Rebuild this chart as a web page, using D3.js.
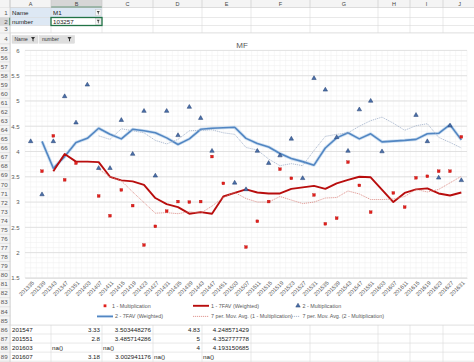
<!DOCTYPE html>
<html><head><meta charset="utf-8">
<script src="https://cdn.jsdelivr.net/npm/d3@7"></script>
<style>body{margin:0;background:#fff;overflow:hidden}svg{display:block;font-family:"Liberation Sans",Arial,sans-serif}</style>
</head><body><svg id="c" width="474" height="362"></svg>
<script>
// ---- data ----
const categories = ["201335","201339","201343","201347","201351","201403","201407","201411","201415","201419","201423","201427","201431","201435","201439","201443","201447","201451","201503","201507","201511","201515","201519","201523","201527","201531","201535","201539","201543","201547","201551","201603","201607","201611","201615","201619","201623","201627","201631"];
const mult1 = [null,3.61,4.31,3.44,3.77,null,3.12,2.73,3.24,2.93,2.15,2.52,2.82,3.01,3.00,3.01,3.90,3.37,null,2.11,2.62,3.01,3.65,3.47,null,3.14,2.57,2.68,3.79,3.33,2.80,null,3.18,2.90,3.48,3.51,3.61,3.61,4.29];
const wfav1 = [null,null,3.61,3.95,3.80,3.80,3.79,3.50,3.43,3.41,3.34,3.08,2.96,2.90,2.77,2.80,2.77,3.11,3.18,3.25,3.19,3.17,3.17,3.26,3.29,3.32,3.26,3.37,3.44,3.50,3.49,null,3.00,3.18,3.25,3.27,3.17,3.13,3.19];
const mult2 = [4.20,3.15,4.20,5.09,4.57,5.32,3.67,3.67,4.62,3.95,4.80,3.52,4.80,4.32,4.88,4.66,4.01,null,3.38,3.25,4.01,3.77,3.92,4.25,3.47,5.45,5.22,4.28,4.01,4.83,5.00,4.00,null,null,4.72,4.20,3.48,4.51,3.43];
const wfav2 = [null,4.20,3.67,3.90,4.18,4.26,4.46,4.34,4.25,4.44,4.41,4.37,4.27,4.14,4.25,4.44,4.46,4.47,4.48,4.26,4.16,4.09,3.96,3.86,3.80,3.73,4.07,4.27,4.37,4.25,4.35,4.19,null,4.22,4.24,4.35,4.36,4.53,4.23];
const ma1 = [null,null,null,null,null,null,3.65,3.50,3.42,3.20,2.99,2.78,2.79,2.77,2.81,2.78,2.92,3.09,3.19,3.07,3.00,3.00,3.11,3.04,2.97,3.00,3.08,3.09,3.22,3.16,3.05,3.05,3.06,3.11,3.25,3.20,3.25,3.38,3.51];
const ma2 = [null,null,null,null,null,null,4.31,4.24,4.45,4.41,4.37,4.22,4.15,4.24,4.41,4.42,4.43,4.37,4.34,4.08,4.03,3.85,3.72,3.76,3.72,4.02,4.30,4.34,4.37,4.50,4.61,4.68,4.56,4.42,4.51,4.55,4.28,4.18,4.07];
const yTicks = [1.5,2,2.5,3,3.5,4,4.5,5,5.5,6];
const seriesNames = ["1 - Multiplication","1 - 7FAV (Weighted)","2 - Multiplication","2 - 7FAV (Weighted)","7 per. Mov. Avg. (1 - Multiplication)","7 per. Mov. Avg. (2 - Multiplication)"];
const chartTitle = "MF";
const filterCells = [["Name","M1"],["number","103257"]];
const pivotButtons = ["Name","number"];
const tableRows = [
  ["201547","3.33","3.503448276","4.83","4.248571429"],
  ["201551","2.8","3.485714286","5","4.352777778"],
  ["201603","na()","na()","4","4.193150685"],
  ["201607","3.18","3.002941176","na()","na()"]
];
const colNames = ["A","B","C","D","E","F","G","H","I","J"];

// ---- layout ----
const svg = d3.select("#c");
const colEdges = [10,51,102,153,202,251,310,378,410,443,476];
const rows = [{n:1,y0:7.5,y1:17.5},{n:2,y0:17.5,y1:25.5},{n:3,y0:25.5,y1:33},{n:4,y0:33,y1:43.8}];
for (let r=55;r<=89;r++){const c=48.3+(r-55)*9.07; rows.push({n:r,y0:c-4.535,y1:c+4.535});}
const cellFont = 6.2;

svg.append("rect").attr("width",474).attr("height",362).attr("fill","#fff");

// light fill in filter cells
svg.append("rect").attr("x",10).attr("y",7.5).attr("width",41).attr("height",18).attr("fill","#dde8f4");
svg.append("rect").attr("x",51).attr("y",7.5).attr("width",51).attr("height",10).attr("fill","#dde8f4");

// cell gridlines
const grid = svg.append("g").attr("stroke","#dadada").attr("stroke-width",0.6);
rows.forEach(r=>{grid.append("line").attr("x1",10).attr("x2",474).attr("y1",r.y1).attr("y2",r.y1);});
colEdges.forEach(x=>{grid.append("line").attr("x1",x).attr("x2",x).attr("y1",7.5).attr("y2",362);});

// column header
svg.append("rect").attr("x",0).attr("y",0).attr("width",474).attr("height",7.5).attr("fill","#f4f4f4");
svg.append("rect").attr("x",51).attr("y",0).attr("width",51).attr("height",7.5).attr("fill","#d6d6d6");
svg.append("line").attr("x1",51).attr("x2",102).attr("y1",7.2).attr("y2",7.2).attr("stroke","#217346").attr("stroke-width",1);
colNames.forEach((c,i)=>{
  svg.append("line").attr("x1",colEdges[i]).attr("x2",colEdges[i]).attr("y1",0).attr("y2",7.5).attr("stroke","#c8c8c8").attr("stroke-width",0.6);
  svg.append("text").attr("x",(colEdges[i]+colEdges[i+1])/2).attr("y",5.6).attr("text-anchor","middle")
    .attr("font-size",5.5).attr("fill","#444").text(c);
});
svg.append("line").attr("x1",0).attr("x2",474).attr("y1",7.5).attr("y2",7.5).attr("stroke","#c8c8c8").attr("stroke-width",0.6);

// row header
svg.append("rect").attr("x",0).attr("y",7.5).attr("width",10).attr("height",355).attr("fill","#f4f4f4");
svg.append("rect").attr("x",0).attr("y",17.5).attr("width",10).attr("height",8).attr("fill","#d6d6d6");
svg.append("line").attr("x1",9.7).attr("x2",9.7).attr("y1",17.5).attr("y2",25.5).attr("stroke","#217346").attr("stroke-width",1);
rows.forEach(r=>{
  svg.append("line").attr("x1",0).attr("x2",10).attr("y1",r.y1).attr("y2",r.y1).attr("stroke","#d0d0d0").attr("stroke-width",0.5);
  svg.append("text").attr("x",7.6).attr("y",(r.y0+r.y1)/2+2.2).attr("text-anchor","end")
    .attr("font-size",cellFont).attr("fill","#555").text(r.n);
});
svg.append("line").attr("x1",10).attr("x2",10).attr("y1",0).attr("y2",362).attr("stroke","#c8c8c8").attr("stroke-width",0.6);

// filter cells
filterCells.forEach((row,i)=>{
  const yc = i===0 ? 12.7 : 21.6;
  svg.append("text").attr("x",12).attr("y",yc+2.2).attr("font-size",cellFont).attr("fill","#222").text(row[0]);
  svg.append("text").attr("x",53).attr("y",yc+2.2).attr("font-size",cellFont).attr("fill","#222").text(row[1]);
  const g = svg.append("g").attr("transform",`translate(95.5,${yc-3.2})`);
  g.append("rect").attr("width",5.5).attr("height",6.2).attr("fill","#f7f7f7").attr("stroke","#bdbdbd").attr("stroke-width",0.4);
  g.append("path").attr("d","M1.2,1.4 L4.3,1.4 L3.1,3.2 L3.1,5 L2.4,4.6 L2.4,3.2 Z").attr("fill","#444");
});
svg.append("rect").attr("x",51).attr("y",17.5).attr("width",51).attr("height",8).attr("fill","none").attr("stroke","#217346").attr("stroke-width",1.3);

// table rows at the bottom
const tableRowY = [329.5,338.6,347.6,356.7];
tableRows.forEach((row,ri)=>{
  const yy = tableRowY[ri]+2.2;
  row.forEach((v,ci)=>{
    const isNum = ci>0 && !isNaN(+v);
    const t = svg.append("text").attr("y",yy).attr("font-size",cellFont).attr("fill","#222").text(v);
    if (ci===0) t.attr("x",12);
    else if (isNum) t.attr("x",colEdges[ci+1]-2).attr("text-anchor","end");
    else t.attr("x",colEdges[ci]+1);
  });
});

// ---- chart ----
svg.append("rect").attr("x",10.5).attr("y",33).attr("width",470).attr("height",292)
  .attr("fill","#fff").attr("stroke","#d9d9d9").attr("stroke-width",0.7);

// pivot buttons
[[12,26],[39.5,35]].forEach(([bx,bw],i)=>{
  const g = svg.append("g").attr("transform",`translate(${bx},35.6)`);
  g.append("rect").attr("width",bw).attr("height",7.6).attr("fill","#dedede").attr("stroke","#cfcfcf").attr("stroke-width",0.4);
  g.append("text").attr("x",2.5).attr("y",5.5).attr("font-size",5).attr("fill","#333").text(pivotButtons[i]);
  g.append("path").attr("transform",`translate(${bw-7},1.4)`).attr("d","M0,0 L4,0 L2.5,2.2 L2.5,4.6 L1.5,4.1 L1.5,2.2 Z").attr("fill","#333");
});

svg.append("text").attr("x",242).attr("y",48.2).attr("text-anchor","middle").attr("font-size",8).attr("fill","#595959").text(chartTitle);

const x = d3.scaleBand().domain(categories).range([25,467]);
const y = d3.scaleLinear().domain([1.5,6]).range([277.9,50.4]);
const cx = c => x(c)+x.bandwidth()/2;

// gridlines
const pg = svg.append("g");
d3.range(15,61).map(v=>v/10).forEach(v=>{
  pg.append("line").attr("x1",25).attr("x2",467).attr("y1",y(v)).attr("y2",y(v)).attr("stroke","#eeeeee").attr("stroke-width",0.5);
});
for (let i=0;i<=categories.length*2;i++){
  const xx = 25 + i*x.step()/2;
  pg.append("line").attr("x1",xx).attr("x2",xx).attr("y1",y(6)).attr("y2",y(1.5)).attr("stroke","#eeeeee").attr("stroke-width",0.5);
}
yTicks.forEach(v=>{
  pg.append("line").attr("x1",25).attr("x2",467).attr("y1",y(v)).attr("y2",y(v)).attr("stroke","#d9d9d9").attr("stroke-width",0.7);
});

// axes
const ya = svg.append("g").attr("transform","translate(25,0)")
  .call(d3.axisLeft(y).tickValues(yTicks).tickSize(0).tickPadding(5.5).tickFormat(d=>String(d)));
ya.select(".domain").remove();
ya.selectAll("text").attr("font-size",6).attr("fill","#595959").attr("font-family","'Liberation Sans',Arial,sans-serif");

const xa = svg.append("g").attr("transform",`translate(0,${y(1.5)})`)
  .call(d3.axisBottom(x).tickSize(0));
xa.select(".domain").attr("stroke","#d9d9d9").attr("stroke-width",0.7);
xa.selectAll("text").attr("font-size",5.6).attr("fill","#595959").attr("font-family","'Liberation Sans',Arial,sans-serif")
  .attr("x",0).attr("y",0).attr("dy","0.35em").attr("transform","translate(2.5,4) rotate(-45)").style("text-anchor","end");

// series helpers
const pts = arr => categories.map((c,i)=>({c,v:arr[i]})).filter(d=>d.v!==null);
const line = d3.line().x(d=>cx(d.c)).y(d=>y(d.v));

// 2 - 7FAV (Weighted) with soft glow
svg.append("path").attr("d",line(pts(wfav2))).attr("fill","none").attr("stroke","#c6daf0").attr("stroke-width",3.2).attr("stroke-linejoin","round").attr("opacity",0.85);
svg.append("path").attr("d",line(pts(wfav2))).attr("fill","none").attr("stroke","#5286c2").attr("stroke-width",1.6).attr("stroke-linejoin","round");
// 1 - 7FAV (Weighted)
svg.append("path").attr("d",line(pts(wfav1))).attr("fill","none").attr("stroke","#b80d0d").attr("stroke-width",1.9).attr("stroke-linejoin","round");
// moving averages
svg.append("path").attr("d",line(pts(ma1))).attr("fill","none").attr("stroke","#d9807a").attr("stroke-width",0.75).attr("stroke-dasharray","1.2,0.8");
svg.append("path").attr("d",line(pts(ma2))).attr("fill","none").attr("stroke","#98aac4").attr("stroke-width",0.75).attr("stroke-dasharray","1.2,0.8");

// markers
const tri = d3.symbol().type(d3.symbolTriangle).size(8.5);
svg.append("g").selectAll("path").data(pts(mult2)).join("path")
  .attr("d",tri).attr("transform",d=>`translate(${cx(d.c)},${y(d.v)})`)
  .attr("fill","#4a6fa8").attr("stroke","#233f70").attr("stroke-width",0.5);
svg.append("g").selectAll("rect").data(pts(mult1)).join("rect")
  .attr("x",d=>cx(d.c)-1.4).attr("y",d=>y(d.v)-1.4).attr("width",2.8).attr("height",2.8)
  .attr("fill","#e0201c").attr("stroke","#b01010").attr("stroke-width",0.3);

// legend
const lg = svg.append("g").attr("font-size",5.35).attr("fill","#595959");
const L1 = 305.8, L2 = 316.4;
lg.append("rect").attr("x",103.6).attr("y",L1-1.4).attr("width",2.8).attr("height",2.8).attr("fill","#e0201c");
lg.append("text").attr("x",112).attr("y",L1+2).text(seriesNames[0]);
lg.append("line").attr("x1",193).attr("x2",209).attr("y1",L1).attr("y2",L1).attr("stroke","#b80d0d").attr("stroke-width",1.9);
lg.append("text").attr("x",211).attr("y",L1+2).text(seriesNames[1]);
lg.append("path").attr("d",tri).attr("transform",`translate(298,${L1})`).attr("fill","#4a6fa8").attr("stroke","#233f70").attr("stroke-width",0.5);
lg.append("text").attr("x",302.5).attr("y",L1+2).text(seriesNames[2]);
lg.append("line").attr("x1",97).attr("x2",113).attr("y1",L2).attr("y2",L2).attr("stroke","#c6daf0").attr("stroke-width",3);
lg.append("line").attr("x1",97).attr("x2",113).attr("y1",L2).attr("y2",L2).attr("stroke","#5286c2").attr("stroke-width",1.4);
lg.append("text").attr("x",115).attr("y",L2+2).text(seriesNames[3]);
lg.append("line").attr("x1",193).attr("x2",209).attr("y1",L2).attr("y2",L2).attr("stroke","#d9807a").attr("stroke-width",0.8).attr("stroke-dasharray","1.2,0.8");
lg.append("text").attr("x",211).attr("y",L2+2).text(seriesNames[4]);
lg.append("line").attr("x1",290).attr("x2",300).attr("y1",L2).attr("y2",L2).attr("stroke","#98aac4").attr("stroke-width",0.8).attr("stroke-dasharray","1.2,0.8");
lg.append("text").attr("x",302.5).attr("y",L2+2).text(seriesNames[5]);
</script>
</body></html>
